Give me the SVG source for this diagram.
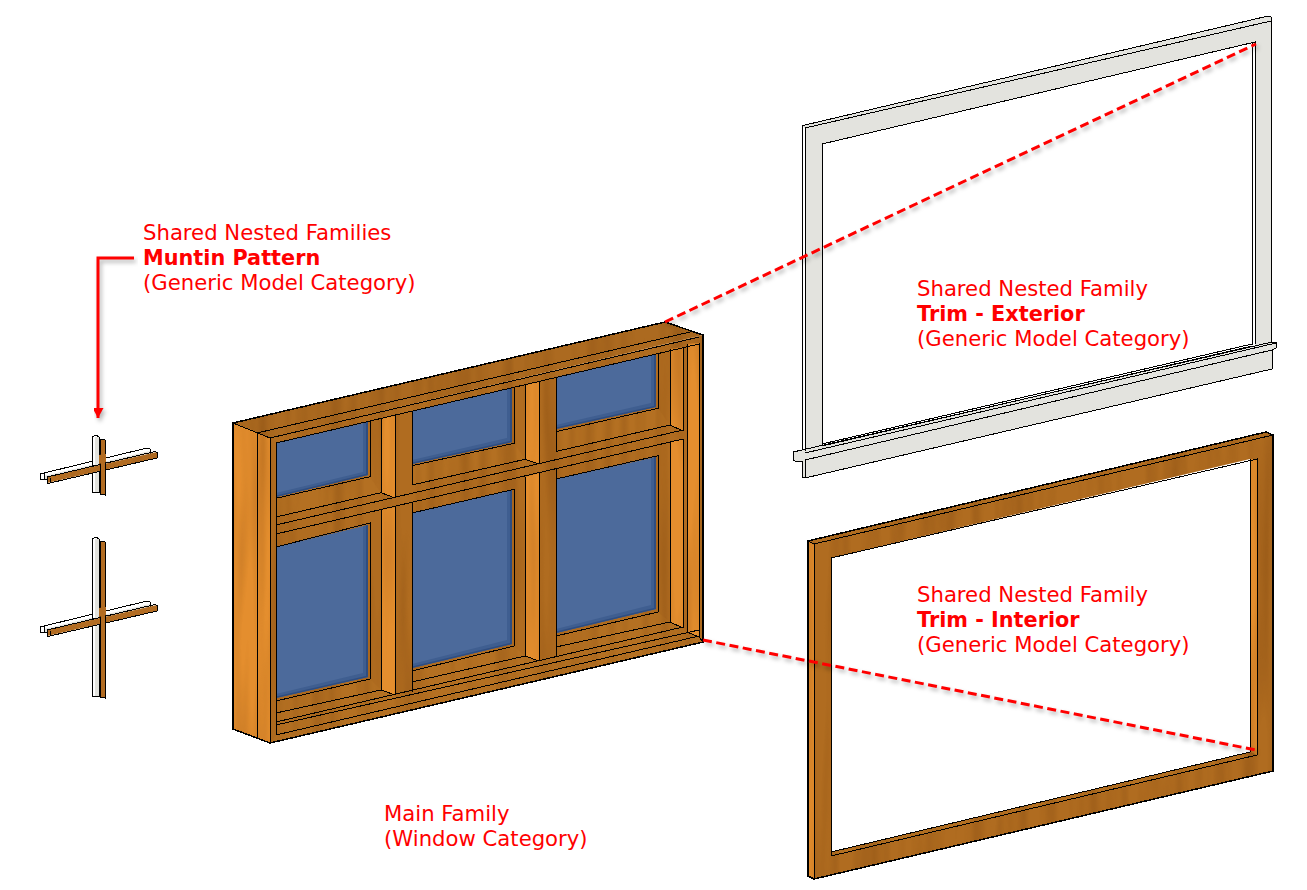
<svg xmlns="http://www.w3.org/2000/svg" width="1307" height="890" viewBox="0 0 1307 890">
<style>
.l{fill:#fff}
text{font-family:"DejaVu Sans",Verdana,sans-serif;font-size:21.2px;fill:#ff0000}
text.b{font-weight:bold;font-size:20.8px}
.k{fill:none;stroke:#000;stroke-width:1;stroke-linejoin:miter;shape-rendering:crispEdges}
.kk{fill:none;stroke:#000;stroke-width:1.5;shape-rendering:crispEdges}
.dk{fill:#b06c20}
.top{fill:#ac6a20}
.br{fill:#e48e2e}
.rail{fill:#b47022}
.gl{fill:#4c6a9b}
.g2{fill:#3f5e90}
.g3{fill:#2f4d80}
.ex{fill:#e3e3de}
.wh{fill:#fff}
.mb{fill:#b26c22}
.dash{fill:none;stroke:#f00;stroke-width:3;stroke-dasharray:9 4.5}
.lead{fill:none;stroke:#f00;stroke-width:3}
</style>
<defs>
<filter id="grain" filterUnits="userSpaceOnUse" x="0" y="0" width="1307" height="890" color-interpolation-filters="sRGB">
<feTurbulence type="fractalNoise" baseFrequency="0.07 0.005" numOctaves="2" seed="4" result="n"/>
<feColorMatrix in="n" type="matrix" values="0 0 0 0 0.4  0 0 0 0 0.2  0 0 0 0 0.02  0.55 0 0 0 -0.22" result="a"/>
<feComposite in="a" in2="SourceGraphic" operator="in" result="c"/>
<feMerge><feMergeNode in="SourceGraphic"/><feMergeNode in="c"/></feMerge>
</filter>
<filter id="sh" x="-10%" y="-10%" width="120%" height="130%" filterUnits="objectBoundingBox" color-interpolation-filters="sRGB">
<feDropShadow dx="2" dy="3" stdDeviation="2" flood-color="#000" flood-opacity="0.3"/>
</filter>
<marker id="ah" markerUnits="userSpaceOnUse" markerWidth="12" markerHeight="12" refX="10" refY="5.5" orient="auto">
<path d="M0 0L10 5.500L0 11Z" fill="#f00"/>
</marker>
</defs>
<rect class="l" width="1307" height="890"/>

<g id="main-window">
<g filter="url(#grain)">
<polygon class="dk" points="270,438 703,335 703,642 270,743"/>
<polygon class="top" points="233,423 665,322 703,335 270,438"/>
<polygon class="br" points="233,423 270,438 270,743 233,729"/>
<polygon class="dk" points="270,438 276,442 276,735 270,743"/>
<polygon class="rail" points="276,498 370,477 381,493 276,517"/>
<polygon class="rail" points="412,466 514,443 525,459 412,485"/>
<polygon class="rail" points="556,432 658,408 670,425 556,451"/>
<polygon class="rail" points="276,701 370,679 381,690 395,695 412,692 412,671 514,646 525,656 539,661 556,657 556,636 658,612 670,622 683,628 699,637 703,642 270,743 276,735"/>
<polygon class="br" points="381,418 395,416 395,498 381,493"/>
<polygon class="br" points="381,510 395,507 395,695 381,690"/>
<polygon class="br" points="525,385 539,382 539,464 525,459"/>
<polygon class="br" points="525,477 539,473 539,661 525,656"/>
<polygon class="br" points="670,349 683,347 683,431 670,425"/>
<polygon class="br" points="670,442 683,439 683,628 670,622"/>
<polygon class="br" points="687,344 699,343 699,637 687,632"/>
</g>
<g id="glass">
<polygon class="gl" points="276,443 368,422 368,475 276,497"/>
<polygon class="g2" points="363,423 368,422 368,475 276,497 276,493 363,472"/>
<polygon class="g3" points="366,422 368,422 368,475 276,497 276,495.500 366,474"/>
<polygon class="gl" points="412,411 512,388 512,442 412,464"/>
<polygon class="g2" points="507,389 512,388 512,442 412,464 412,460 507,438"/>
<polygon class="g3" points="510,388.500 512,388 512,442 412,464 412,462.500 510,441"/>
<polygon class="gl" points="556,377 656,354 656,407 556,429"/>
<polygon class="g2" points="651,355 656,354 656,407 556,429 556,425 651,403"/>
<polygon class="g3" points="654,354 656,354 656,407 556,429 556,427.500 654,406"/>
<polygon class="gl" points="276,547 368,525 368,677 276,698"/>
<polygon class="g2" points="363,526 368,525 368,677 276,698 276,694 363,673"/>
<polygon class="g3" points="366,525 368,525 368,677 276,698 276,696.500 366,676"/>
<polygon class="gl" points="412,513 512,490 512,644 412,668"/>
<polygon class="g2" points="507,491 512,490 512,644 412,668 412,664 507,640"/>
<polygon class="g3" points="510,490 512,490 512,644 412,668 412,666.500 510,643"/>
<polygon class="gl" points="556,479 656,457 656,609 556,633"/>
<polygon class="g2" points="651,458 656,457 656,609 556,633 556,629 651,605"/>
<polygon class="g3" points="654,457 656,457 656,609 556,633 556,631.500 654,608"/>
</g>
<g id="window-lines">
<path class="kk" d="M233,423L665,322L703,335V642L270,743L233,729Z"/>
<path class="k" d="M233,423L270,438V743M257,433V737M276,442V735"/>
<path class="k" d="M257,433L690,332M270,438L699,337M276,443L699,344M699,343V637L703,642M687,344V632L699,637"/>
<path class="k" d="M276,498.300L370,476.700V420M412,465.700L514,443.300V387.300M556,431.700L658,408.300V352.700"/>
<path class="k" d="M276,517L381,492.700L395,498M412,485L525,459.300L539,464M556,451.500L670,425L683,431"/>
<path class="k" d="M276,525L683,430M276,534L683,439"/>
<path class="k" d="M276,547L370,523V679L276,701M412,513L514,489.300V646L412,671M556,479L658,455.700V612L556,636"/>
<path class="k" d="M381,418V493M381,510V690M395,414V498M395,507V695M412,411V485M412,502V692M525,385V459M525,477V656M539,382V464M539,473V661M556,378V451.500M556,469V657M670,349V425M670,442V622M683,347V431M683,439V628"/>
<path class="k" d="M276,713L381,690L395,695M412,682L525,656L539,661M556,647L670,622L683,628"/>
<path class="k" d="M276,722L683,627M276,725L699,630M276,735L699,636"/>
</g>
</g>

<g id="muntin-top">
<polygon class="wh" points="40,474 150,448 151,455 41,480"/>
<polygon class="ex" points="44,476 150,451 150,455 44,480"/>
<path class="k" d="M44,473L147,448L150,449V455L44,480L40,479V474ZM44,473V480"/>
<rect class="wh" x="92" y="436" width="4" height="56"/>
<rect class="ex" x="95" y="437" width="4" height="55"/>
<path class="k" d="M92,492V437L96,435L99,437V492H92"/>
<g filter="url(#grain)"><polygon class="mb" points="47,477 157,452 157,458 47,483"/></g>
<path class="k" d="M47,477L155,451.500L157,452.500V458L50,483L47,483ZM50,478V483"/>
<polygon class="mb" points="100,439 105,440 105,495 100,494"/>
<path class="k" d="M100,457V439L105,440V454M105,461V495L100,494V463"/>
<polygon class="mb" points="99,455 106,454 106,462 99,464"/>
</g>
<g id="muntin-bottom">
<polygon class="wh" points="40,627 150,601 151,608 41,633"/>
<polygon class="ex" points="44,629 150,604 150,608 44,633"/>
<path class="k" d="M44,626L147,601L150,602V608L44,633L40,632V627ZM44,626V633"/>
<rect class="wh" x="92" y="538" width="4" height="158"/>
<rect class="ex" x="95" y="539" width="4" height="157"/>
<path class="k" d="M92,696V539L96,537L99,539V696H92"/>
<polygon class="mb" points="47,630 157,605 157,611 47,636"/>
<path class="k" d="M47,630L155,604.500L157,605.500V611L50,636L47,636ZM50,631V636"/>
<polygon class="mb" points="100,541 105,542 105,698 100,697"/>
<path class="k" d="M100,610V541L105,542V607M105,614V698L100,697V616"/>
<polygon class="mb" points="99,608 106,607 106,615 99,617"/>
</g>

<g id="trim-exterior">
<path class="ex" fill-rule="evenodd" d="M802,126L1268,16L1271,17V348L1272,369L805,478L802,477ZM822,144V447L1252,347V43L1255,42Z"/>
<polygon class="wh" points="802,126 805,128 805,477 802,477"/>
<polygon class="ex" points="793,452 802,450 1272,342 1276,343 1276,348 1272,350 1272,369 805,478 802,477 802,461 797,462 793,460"/>
<polygon class="wh" points="1252,43 1255,42 1255,345 1252,346"/>
<path class="k" d="M802,126L805,125L1268,16L1271,17M805,128L1271,21M802,126V450M805,128V451M822,144L1255,42V344M1252,43V345M822,144V445M1271,17V342"/>
<path class="k" d="M822,444L1252,344M822,446L1252,346M805,453L1276,343V348L1272,350M805,460L1272,350V369L805,478L802,477V461M805,460V478M793,452L802,450L1272,342L1276,343M793,452V460L797,462L802,461"/>
</g>

<g id="trim-interior">
<g filter="url(#grain)">
<path class="dk" fill-rule="evenodd" d="M808,541L1266,432L1273,435V771L814,879L808,876ZM831,558V852L1250,752V459Z"/>
<polygon class="br" points="1250,459 1257,459 1257,755 1250,752"/>
<polygon class="br" points="814,545 814,879 808,876 808,541"/>
<polygon class="rail" points="831,852 1250,752 1257,755 831,856"/>
</g>
<path class="kk" d="M808,541L1266,432L1273,435V771L814,879L808,876Z"/>
<path class="k" d="M808,541L814,544L1273,435M814,544V879M831,558L1257,459V755L831,856M831,558V856M1250,459V752L831,852"/>
</g>

<g id="connectors">
<g filter="url(#sh)"><path class="dash" d="M110,490H310"/></g>
<g filter="url(#sh)"><path class="dash" d="M112,693H312"/></g>
<g filter="url(#sh)"><path class="dash" d="M665,322L1256,44"/></g>
<g filter="url(#sh)"><path class="dash" d="M703,640L1256,750"/></g>
<g filter="url(#sh)"><path class="lead" d="M134,258H98V418" marker-end="url(#ah)"/></g>
</g>

<g id="label-muntin">
<text x="143" y="240">Shared Nested Families</text>
<text x="143" y="265" class="b">Muntin Pattern</text>
<text x="143" y="290">(Generic Model Category)</text>
</g>
<g id="label-exterior">
<text x="917" y="296">Shared Nested Family</text>
<text x="917" y="321" class="b">Trim - Exterior</text>
<text x="917" y="346">(Generic Model Category)</text>
</g>
<g id="label-interior">
<text x="917" y="602">Shared Nested Family</text>
<text x="917" y="627" class="b">Trim - Interior</text>
<text x="917" y="652">(Generic Model Category)</text>
</g>
<g id="label-main">
<text x="384" y="821">Main Family</text>
<text x="384" y="846">(Window Category)</text>
</g>
</svg>
